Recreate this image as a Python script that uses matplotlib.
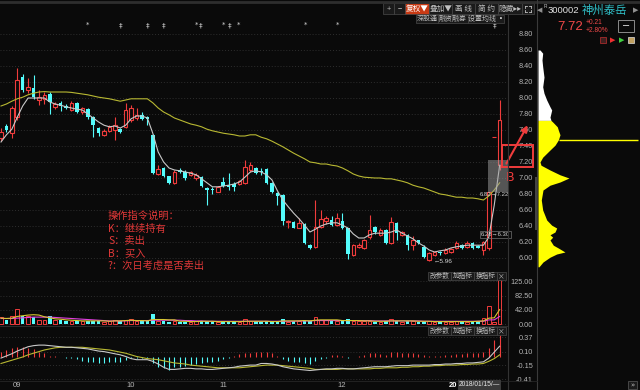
import matplotlib
matplotlib.use("Agg")
import matplotlib.pyplot as plt
from matplotlib.patches import Rectangle
from matplotlib.lines import Line2D
import numpy as np

plt.rcParams['font.family'] = ['Noto Sans CJK SC', 'DejaVu Sans']

# ---------------- data ----------------
opens = [7.50, 7.65, 7.56, 7.76, 8.26, 8.10, 8.12, 7.97, 7.99, 8.05,
         7.89, 7.94, 7.90, 7.85, 7.94, 7.825, 7.86, 7.76, 7.625, 7.54,
         7.59, 7.60, 7.61, 7.64, 7.725, 7.75, 7.79, 7.76, 7.54, 7.05,
         7.125, 7.025, 6.94, 7.10, 7.075, 7.04, 7.00, 7.01, 6.875, 6.86,
         6.825, 6.95, 6.91, 6.925, 6.925, 6.94, 7.10, 7.125, 7.09, 7.11,
         6.94, 6.81, 6.79, 6.45, 6.45, 6.375, 6.425, 6.16, 6.14, 6.39,
         6.46, 6.475, 6.41, 6.46, 6.375, 6.04, 6.14, 6.125, 6.26, 6.39,
         6.29, 6.35, 6.19, 6.44, 6.29, 6.29, 6.16, 6.225, 6.14, 5.97,
         6.04, 6.075, 6.06, 6.075, 6.125, 6.16, 6.14, 6.19, 6.15, 6.10,
         6.12, 7.51, 7.16]
closes = [7.575, 7.60, 7.87, 8.22, 8.10, 8.14, 8.01, 8.01, 8.04, 7.95,
          7.925, 7.90, 7.875, 7.94, 7.825, 7.875, 7.76, 7.66, 7.56, 7.59,
          7.64, 7.66, 7.575, 7.85, 7.875, 7.79, 7.74, 7.74, 7.06, 7.11,
          7.025, 6.94, 7.075, 7.075, 7.00, 7.075, 7.04, 6.90, 6.85, 6.85,
          6.89, 6.90, 6.89, 6.89, 6.96, 7.14, 7.16, 7.06, 7.08, 6.94,
          6.825, 6.775, 6.46, 6.46, 6.375, 6.44, 6.19, 6.125, 6.39, 6.49,
          6.50, 6.41, 6.50, 6.375, 6.05, 6.16, 6.16, 6.225, 6.35, 6.325,
          6.35, 6.19, 6.45, 6.31, 6.325, 6.16, 6.225, 6.19, 6.01, 6.06,
          6.075, 6.06, 6.10, 6.11, 6.19, 6.125, 6.19, 6.125, 6.125, 6.20,
          6.82, 7.51, 7.72]
highs = [7.62, 7.68, 7.90, 8.375, 8.30, 8.25, 8.29, 8.10, 8.08, 8.07,
         7.95, 7.96, 7.92, 7.96, 7.95, 7.89, 7.88, 7.77, 7.64, 7.61,
         7.66, 7.76, 7.63, 7.94, 7.91, 7.88, 7.82, 7.77, 7.55, 7.16,
         7.14, 7.03, 7.10, 7.12, 7.10, 7.09, 7.06, 7.02, 6.89, 6.89,
         6.90, 7.01, 7.06, 6.95, 6.98, 7.225, 7.20, 7.14, 7.13, 7.12,
         6.95, 6.82, 6.80, 6.47, 6.46, 6.50, 6.44, 6.17, 6.725, 6.60,
         6.52, 6.52, 6.56, 6.56, 6.38, 6.17, 6.19, 6.24, 6.54, 6.40,
         6.37, 6.36, 6.51, 6.45, 6.34, 6.30, 6.28, 6.23, 6.16, 6.07,
         6.09, 6.09, 6.12, 6.13, 6.21, 6.18, 6.21, 6.20, 6.16, 6.21,
         6.82, 7.51, 7.98]
lows = [7.46, 7.58, 7.50, 7.72, 8.08, 8.06, 7.99, 7.91, 7.92, 7.80,
        7.86, 7.84, 7.86, 7.84, 7.81, 7.80, 7.74, 7.51, 7.52, 7.52,
        7.57, 7.48, 7.56, 7.62, 7.70, 7.73, 7.72, 7.66, 7.05, 7.04,
        7.01, 6.93, 6.93, 7.06, 6.97, 7.02, 6.98, 6.89, 6.66, 6.80,
        6.82, 6.89, 6.85, 6.84, 6.91, 6.93, 7.08, 7.05, 7.04, 6.93,
        6.81, 6.66, 6.41, 6.375, 6.37, 6.37, 6.18, 6.11, 6.13, 6.38,
        6.43, 6.40, 6.40, 6.36, 5.99, 6.03, 6.12, 6.11, 6.24, 6.30,
        6.27, 6.17, 6.17, 6.225, 6.27, 6.10, 6.10, 6.18, 6.00, 5.96,
        6.03, 6.04, 6.05, 6.06, 6.11, 6.11, 6.13, 6.11, 6.12, 6.04,
        6.10, 7.51, 7.10]
ma_short = [7.45, 7.54, 7.61, 7.76, 7.90, 8.00, 8.00, 8.00, 8.00, 7.95,
            7.925, 7.91, 7.89, 7.875, 7.86, 7.85, 7.80, 7.75, 7.70, 7.66,
            7.64, 7.65, 7.625, 7.66, 7.74, 7.775, 7.775, 7.75, 7.56, 7.325,
            7.20, 7.125, 7.10, 7.09, 7.075, 7.06, 7.04, 6.99, 6.94, 6.89,
            6.89, 6.90, 6.91, 6.925, 6.95, 7.01, 7.075, 7.09, 7.075, 7.04,
            6.975, 6.84, 6.725, 6.64, 6.56, 6.49, 6.41, 6.325, 6.36, 6.40,
            6.425, 6.44, 6.44, 6.41, 6.375, 6.30, 6.25, 6.25, 6.29, 6.31,
            6.31, 6.31, 6.325, 6.35, 6.31, 6.275, 6.24, 6.19, 6.15, 6.10,
            6.075, 6.09, 6.10, 6.125, 6.14, 6.15, 6.16, 6.16, 6.16, 6.16,
            6.26, 6.66, 7.16]
ma_long = [7.90, 7.925, 7.96, 7.99, 8.01, 8.04, 8.06, 8.075, 8.08, 8.075,
           8.075, 8.075, 8.075, 8.07, 8.06, 8.05, 8.04, 8.025, 8.01, 8.00,
           7.99, 7.975, 7.96, 7.975, 7.99, 7.99, 7.99, 7.99, 7.94, 7.875,
           7.825, 7.79, 7.75, 7.725, 7.70, 7.675, 7.66, 7.64, 7.61, 7.59,
           7.575, 7.56, 7.55, 7.54, 7.525, 7.525, 7.54, 7.54, 7.51, 7.49,
           7.46, 7.425, 7.39, 7.35, 7.31, 7.275, 7.24, 7.20, 7.19, 7.175,
           7.175, 7.16, 7.15, 7.125, 7.09, 7.05, 7.025, 7.01, 7.005, 7.00,
           7.00, 6.99, 6.99, 6.975, 6.96, 6.94, 6.91, 6.89, 6.875, 6.85,
           6.825, 6.80, 6.79, 6.775, 6.76, 6.76, 6.75, 6.75, 6.74, 6.725,
           6.775, 6.85, 6.94]
volumes = [19.4, 12.6, 22.3, 43.6, 24.2, 22.3, 20.3, 12.6, 10.7, 24.2,
           10.7, 10.7, 7.8, 9.7, 9.7, 7.8, 9.7, 9.7, 9.7, 6.8,
           7.8, 10.7, 7.8, 12.6, 14.5, 7.8, 7.8, 7.8, 30.0, 7.8,
           9.7, 5.8, 9.7, 5.8, 5.8, 6.8, 7.8, 7.8, 7.8, 5.8,
           5.8, 5.8, 5.8, 7.8, 5.8, 14.5, 7.8, 7.8, 4.8, 7.8,
           5.8, 7.8, 15.5, 5.8, 7.8, 7.8, 9.7, 7.8, 19.4, 12.6,
           10.7, 7.8, 9.7, 7.8, 15.5, 9.7, 7.8, 7.8, 9.7, 5.8,
           5.8, 7.8, 15.5, 9.7, 5.8, 7.8, 7.8, 5.8, 9.7, 7.8,
           5.8, 5.8, 5.8, 5.8, 7.8, 7.8, 5.8, 7.8, 7.8, 16.5,
           52.0, 4.8, 128.0]
vol_ma5 = [17, 16, 17, 22, 24, 26, 27, 26, 21, 18,
           15, 14, 12, 11, 10, 9, 9, 9, 9, 9,
           8, 9, 9, 10, 11, 10, 10, 9, 13, 13,
           13, 12, 12, 8, 8, 7, 7, 8, 8, 8,
           7, 7, 7, 7, 7, 8, 8, 8, 8, 8,
           7, 7, 9, 9, 9, 9, 10, 9, 11, 12,
           12, 12, 12, 10, 10, 10, 10, 9, 9, 8,
           8, 8, 9, 9, 9, 9, 9, 8, 8, 8,
           7, 7, 7, 7, 7, 7, 7, 7, 8, 9,
           17, 18, 42]
vol_ma10 = [16, 16, 16, 17, 18, 19, 20, 20, 20, 20,
            19, 18, 17, 16, 15, 14, 13, 12, 11, 10,
            9, 9, 9, 9, 10, 10, 10, 10, 11, 11,
            11, 11, 11, 11, 10, 10, 9, 9, 8, 8,
            8, 8, 8, 8, 8, 8, 8, 8, 8, 8,
            8, 8, 8, 8, 8, 9, 9, 9, 10, 10,
            10, 10, 10, 10, 10, 10, 10, 10, 10, 9,
            9, 9, 9, 9, 9, 9, 9, 9, 8, 8,
            8, 8, 8, 8, 8, 8, 8, 8, 8, 8,
            12, 12, 22]
macd_hist = [0.10, 0.13, 0.16, 0.18, 0.18, 0.17, 0.14, 0.10, 0.07, 0.02,
             0.01, 0.005, -0.01, -0.02, -0.04, -0.07, -0.09, -0.10, -0.12, -0.12,
             -0.10, -0.09, -0.09, -0.055, -0.025, -0.01, -0.01, -0.025, -0.12, -0.18,
             -0.21, -0.24, -0.19, -0.18, -0.17, -0.15, -0.13, -0.12, -0.10, -0.09,
             -0.07, -0.04, -0.025, 0.02, 0.055, 0.07, 0.08, 0.10, 0.10, 0.10,
             0.07, 0.02, -0.04, -0.07, -0.09, -0.10, -0.12, -0.13, -0.07, -0.04,
             -0.01, 0.04, 0.04, 0.02, -0.01, -0.005, 0.02, 0.04, 0.07, 0.07,
             0.055, 0.04, 0.10, 0.10, 0.08, 0.07, 0.07, 0.055, 0.04, 0.02,
             0.02, 0.02, 0.03, 0.04, 0.055, 0.055, 0.07, 0.07, 0.07, 0.10,
             0.16, 0.31, 0.41]
macd_dif = [-0.02, 0.02, 0.06, 0.11, 0.15, 0.19, 0.21, 0.22, 0.22, 0.21,
            0.20, 0.19, 0.18, 0.18, 0.17, 0.16, 0.15, 0.13, 0.11, 0.10,
            0.08, 0.06, 0.04, 0.01, -0.03, -0.05, -0.05, -0.05, -0.08, -0.13,
            -0.19, -0.23, -0.23, -0.22, -0.21, -0.21, -0.22, -0.22, -0.23, -0.23,
            -0.22, -0.21, -0.20, -0.19, -0.17, -0.16, -0.15, -0.15, -0.12, -0.12,
            -0.13, -0.15, -0.18, -0.20, -0.22, -0.23, -0.24, -0.25, -0.24, -0.23,
            -0.22, -0.22, -0.21, -0.21, -0.22, -0.22, -0.21, -0.20, -0.19, -0.18,
            -0.18, -0.18, -0.17, -0.16, -0.16, -0.16, -0.15, -0.15, -0.15, -0.15,
            -0.14, -0.14, -0.13, -0.13, -0.12, -0.12, -0.11, -0.11, -0.10, -0.09,
            -0.02, 0.09, 0.20]
macd_dea = [-0.12, -0.09, -0.06, -0.03, 0.00, 0.04, 0.07, 0.10, 0.13, 0.15,
            0.17, 0.18, 0.18, 0.18, 0.18, 0.18, 0.17, 0.16, 0.15, 0.14,
            0.13, 0.11, 0.09, 0.07, 0.04, 0.01, -0.01, -0.03, -0.04, -0.05,
            -0.07, -0.09, -0.11, -0.12, -0.13, -0.15, -0.16, -0.17, -0.18, -0.19,
            -0.20, -0.20, -0.20, -0.20, -0.20, -0.19, -0.18, -0.17, -0.16, -0.15,
            -0.15, -0.15, -0.16, -0.17, -0.18, -0.19, -0.20, -0.21, -0.23, -0.23,
            -0.23, -0.23, -0.23, -0.22, -0.22, -0.22, -0.22, -0.22, -0.22, -0.21,
            -0.21, -0.20, -0.20, -0.20, -0.19, -0.19, -0.18, -0.18, -0.17, -0.17,
            -0.16, -0.16, -0.15, -0.15, -0.15, -0.14, -0.14, -0.13, -0.13, -0.12,
            -0.08, -0.03, 0.04]

price_ticks = [8.80, 8.60, 8.40, 8.20, 8.00, 7.80, 7.60, 7.40, 7.20, 7.00,
               6.80, 6.60, 6.40, 6.20, 6.00]
vol_ticks = [0.0, 42.0, 82.5, 125.0]
macd_ticks = [-0.41, -0.15, 0.10, 0.37]
month_labels = ['09', '10', '11', '12', '20']
month_pos = [2.95, 24.0, 41.1, 62.9, 83.4]

prof_price = [8.60, 8.56, 8.475, 8.39, 8.26, 8.14, 8.06, 7.975, 7.89, 7.85,
              7.76, 7.72, 7.70, 7.64, 7.60, 7.54, 7.475, 7.41, 7.35, 7.26,
              7.20, 7.16, 7.10, 7.04, 7.00, 6.95, 6.91, 6.85, 6.725, 6.60,
              6.475, 6.41, 6.375, 6.325, 6.29, 6.26, 6.225, 6.16, 6.125, 6.075,
              6.05, 6.01, 5.95, 5.89]
prof_width = [2, 4.7, 4, 4.7, 6, 4.7, 6, 8.7, 12, 13.7,
              12, 13, 14.7, 19.3, 20.3, 22, 20.3, 17, 12, 4.7,
              2, 3, 12, 22, 31, 22, 12, 5, 3.3, 4.7,
              8.7, 13.7, 18.7, 17, 12, 14.7, 12, 15.3, 20.3, 27,
              18.7, 12, 5, 1]
last_price = 7.72
avg_cost = 7.475

star_idx = [16, 22.1, 27.1, 29.9, 36, 36.9, 41.1, 42.1, 43.9, 56.1, 62, 91]
star_sym = ['*', '‡', '‡', '‡', '*', '‡', '*', '‡', '*', '*', '*', '‡']

legend_lines = ['操作指令说明：', 'K：继续持有', 'S：卖出', 'B：买入', '?：次日考虑是否卖出']

# ---------------- style ----------------
BG = '#0a0a0a'
RED = '#f03c3c'
CYAN = '#54fcfc'
YEL = '#b8b832'
WHT = '#c8c8c8'
GRID = '#2e2e2e'
LBL = '#b4b4b4'
NUMF = 'Liberation Sans'

W, H = 640, 390
fig = plt.figure(figsize=(W / 100, H / 100), dpi=100, facecolor=BG)


def add_ax(x0, y0, x1, y1):
    a = fig.add_axes([x0 / W, 1 - y1 / H, (x1 - x0) / W, (y1 - y0) / H])
    a.set_facecolor('none')
    for s in a.spines.values():
        s.set_visible(False)
    return a


def ftext(x, y, s, **kw):
    return fig.text(x / W, 1 - y / H, s, **kw)


def fline(x0, y0, x1, y1, **kw):
    fig.add_artist(Line2D([x0 / W, x1 / W], [1 - y0 / H, 1 - y1 / H], **kw))


def frect(x0, y0, x1, y1, **kw):
    fig.add_artist(Rectangle((x0 / W, 1 - y1 / H), (x1 - x0) / W, (y1 - y0) / H,
                             transform=fig.transFigure, **kw))


def right_ticks(a, ticks, fmt):
    a.yaxis.tick_right()
    a.set_yticks(ticks)
    a.set_yticklabels([fmt.format(t) for t in ticks])
    a.tick_params(axis='y', length=0, pad=18, labelsize=5.3, labelcolor=LBL)
    for lab in a.get_yticklabels():
        lab.set_horizontalalignment('right')
        lab.set_fontfamily(NUMF)
    a.grid(axis='y', color=GRID, linestyle=(0, (1, 2)), lw=0.7)
    a.set_axisbelow(True)


XL = (-0.185, 93.54)
n = len(opens)
idx = np.arange(n)
o = np.array(opens); c = np.array(closes)
hi = np.array(highs); lo = np.array(lows)
up = c >= o
top = np.maximum(o, c); bot = np.minimum(o, c)
hgt = np.maximum(top - bot, 0.008)
BW = 0.66

# ---------------- main price panel ----------------
ax = add_ax(0, 15, 508, 268)
ax.set_xlim(*XL)
ax.set_ylim(5.875, 9.0375)
ax.set_xticks([])
right_ticks(ax, price_ticks, '{:.2f}')

ax.vlines(idx[~up], lo[~up], hi[~up], color=CYAN, lw=0.8, zorder=2)
ax.vlines(idx[up], top[up], hi[up], color=RED, lw=0.8, zorder=2)
ax.vlines(idx[up], lo[up], bot[up], color=RED, lw=0.8, zorder=2)
ax.bar(idx[~up], hgt[~up], bottom=bot[~up], width=BW, color=CYAN, lw=0, zorder=3)
ax.bar(idx[up], hgt[up], bottom=bot[up], width=BW, facecolor=BG, edgecolor=RED, lw=0.8, zorder=3)
ax.plot(idx, ma_long, color=YEL, lw=0.8, zorder=4)
ax.plot(idx, ma_short, color=WHT, lw=0.8, zorder=4)

for i, s in zip(star_idx, star_sym):
    ax.text(i, 8.9125, s, color='#d8d8d8', fontsize=5, ha='center', va='center', family='DejaVu Sans')

# highlight box and labels near the end
ax.add_patch(Rectangle((89.85, 6.825), 3.69, 0.40, facecolor='#a0a0a0', alpha=0.5,
                       edgecolor='none', zorder=5, clip_on=False))
ax.text(88.4, 6.79, '6.82→7.22', color='#d0d0d0', fontsize=4.3, ha='left', va='center',
        family=NUMF, zorder=6, clip_on=False)
ax.text(88.6, 6.29, '6.28→6.30', color='#d0d0d0', fontsize=4.3, ha='left', va='center',
        family=NUMF, zorder=6, bbox=dict(facecolor='none', edgecolor='#707070', lw=0.5, pad=0.6))
ax.text(79.9, 5.955, '←5.96', color='#d8d8d8', fontsize=4.6, ha='left', va='center', family=NUMF)

# red annotation: rectangle, arrow and "B"
ax.add_patch(Rectangle((92.45, 7.1375), 5.75, 0.275, facecolor='none', edgecolor=RED,
                       lw=1.4, zorder=7, clip_on=False))
ax.annotate('', xy=(97.4, 7.69), xytext=(93.0, 7.15), annotation_clip=False, zorder=7,
            arrowprops=dict(arrowstyle='-|>', color=RED, lw=1.5, mutation_scale=9))
ax.text(94.0, 7.01, 'B', color=RED, fontsize=9, ha='center', va='center', family='DejaVu Sans',
        zorder=7, clip_on=False)

# ---------------- volume panel ----------------
axv = add_ax(0, 270, 508, 326)
axv.set_xlim(*XL)
axv.set_ylim(-5.8, 157)
axv.set_xticks([])
right_ticks(axv, vol_ticks, '{:.2f}')
vol = np.array(volumes)
axv.bar(idx[~up], vol[~up], width=BW, color=CYAN, lw=0, zorder=3)
axv.bar(idx[up], vol[up], width=BW, facecolor=BG, edgecolor=RED, lw=0.7, zorder=3)
axv.plot(idx, vol_ma10, color='#e040e0', lw=0.8, zorder=4)
axv.plot(idx, vol_ma5, color='#d8c832', lw=0.8, zorder=4)

# ---------------- MACD panel ----------------
axm = add_ax(0, 326, 508, 380)
axm.set_xlim(*XL)
axm.set_ylim(-0.426, 0.574)
right_ticks(axm, macd_ticks, '{:.2f}')
mh = np.array(macd_hist)
axm.vlines(idx, 0, mh, colors=np.where(mh >= 0, RED, CYAN), lw=0.8, zorder=3)
axm.plot(idx, macd_dea, color=YEL, lw=0.8, zorder=4)
axm.plot(idx, macd_dif, color=WHT, lw=0.8, zorder=4)
axm.set_xticks(month_pos)
axm.set_xticklabels(month_labels)
axm.tick_params(axis='x', length=0, pad=1.5, labelsize=5.5, labelcolor=LBL)
for lab in axm.get_xticklabels():
    lab.set_fontfamily(NUMF)
axm.get_xticklabels()[-1].set_color('white')
axm.get_xticklabels()[-1].set_fontweight('bold')

# ---------------- chip distribution (right) ----------------
axp = add_ax(538, 15, 640, 268)
axp.set_xlim(0, 102)
axp.set_ylim(5.875, 9.0375)
axp.set_xticks([]); axp.set_yticks([])
pp = np.array(prof_price); pw = np.array(prof_width)
mw = pp >= last_price
my = pp <= last_price
axp.fill_betweenx(pp[mw], 0, pw[mw], color='white', lw=0)
axp.fill_betweenx(pp[my], 0, pw[my], color='#ffff00', lw=0)
axp.hlines(avg_cost, 21, 100, color='#ffff00', lw=1.0)

# ---------------- frame lines ----------------
fline(0, 1.5, 640, 1.5, color='#2e2e2e', lw=2)
fline(508, 15, 508, 390, color='#333333', lw=0.8)
fline(537, 0, 537, 390, color='#3a3a3a', lw=0.8)
fline(0, 325.5, 508, 325.5, color='#333333', lw=0.6)
fline(0, 380.5, 537, 380.5, color='#262626', lw=0.6)
frect(535, 177, 538, 230, facecolor='#454545', edgecolor='none')

# ---------------- toolbar ----------------
def button(x0, x1, y0, y1, txt, bg='#1a1a1a', fg='#c0c0c0', fs=5.5):
    frect(x0, y0, x1, y1, facecolor=bg, edgecolor='#4a4a4a', lw=0.5)
    if txt:
        ftext((x0 + x1) / 2, (y0 + y1) / 2, txt, color=fg, fontsize=fs, ha='center', va='center')

button(383, 394, 3, 14, '+')
button(394, 405, 3, 14, '−')
button(405, 429, 3, 14, '复权▼', bg='#c83a14', fg='white')
button(429, 452, 3, 14, '叠加▼')
button(452, 475, 3, 14, '画 线')
button(475, 498, 3, 14, '简 约')
button(498, 522, 3, 14, '隐藏▸▸')
button(522, 534, 3, 14, '')
# full-screen symbol drawn as four corner brackets
for (cx, cy, dx, dy) in [(525, 5.5, 1, 1), (531, 5.5, -1, 1), (525, 11.5, 1, -1), (531, 11.5, -1, -1)]:
    fline(cx, cy, cx + 2 * dx, cy, color='#c0c0c0', lw=0.6)
    fline(cx, cy, cx, cy + 2 * dy, color='#c0c0c0', lw=0.6)
button(416, 438, 15, 23, '深股通', fs=5)
button(438, 468, 15, 23, '融资融券', fs=5)
button(468, 504, 15, 23, '设置均线 ▪', fs=5)

# panel header buttons
for yy in (272, 327):
    button(428, 451, yy, yy + 8, '改参数', fs=4.8)
    button(451, 474, yy, yy + 8, '加指标', fs=4.8)
    button(474, 497, yy, yy + 8, '换指标', fs=4.8)
    button(497, 506, yy, yy + 8, '×', fs=4.8)

# ---------------- red instruction text ----------------
for line, yy in zip(legend_lines, [216, 228.5, 241, 253.5, 266]):
    ftext(108, yy, line, color='#e03838', fontsize=7.4, ha='left', va='center')

# ---------------- right header ----------------
ftext(540, 10, '◀', color='#909090', fontsize=5, ha='center', va='center', family='DejaVu Sans')
ftext(545.5, 6, 'R', color='#c0c0c0', fontsize=3.5, ha='center', va='center', family=NUMF)
ftext(548, 10.5, '300002', color='#e0e0e0', fontsize=6.8, ha='left', va='center', family=NUMF)
ftext(582, 10.5, '神州泰岳', color='#30c0c8', fontsize=8.2, ha='left', va='center')
ftext(636, 10, '▶', color='#909090', fontsize=5, ha='center', va='center', family='DejaVu Sans')
ftext(557, 27, '7.72', color='#f04848', fontsize=9.5, ha='left', va='center', family=NUMF)
ftext(586, 22.5, '+0.21', color='#f04848', fontsize=4.8, ha='left', va='center', family=NUMF)
ftext(586, 31, '+2.80%', color='#f04848', fontsize=4.8, ha='left', va='center', family=NUMF)
frect(618, 20, 634, 32, facecolor='none', edgecolor='#8a8a8a', lw=0.7)
ftext(626, 26, '−', color='#e0e0e0', fontsize=7, ha='center', va='center', family='DejaVu Sans')
frect(600, 37, 606, 43, facecolor='#402020', edgecolor='#c03030', lw=0.5)
ftext(613, 40, '▶', color='#f03030', fontsize=5, ha='center', va='center', family='DejaVu Sans')
ftext(622, 40, '▶', color='#40d040', fontsize=5, ha='center', va='center', family='DejaVu Sans')
frect(628, 37, 634, 43, facecolor='#c0a060', edgecolor='#e0e0e0', lw=0.5)

# ---------------- date strip ----------------
ftext(479.5, 385, '2018/01/15/—', color='#e8e8e8', fontsize=4.8, ha='center', va='center',
      family=NUMF, bbox=dict(facecolor='#3a3a3a', edgecolor='none', pad=0.8))
frect(628, 381, 637, 389, facecolor='#1a1a1a', edgecolor='#5a5a5a', lw=0.5)
ftext(632.5, 385, '»', color='#c0c0c0', fontsize=5, ha='center', va='center', family='DejaVu Sans')

fig.savefig('out.png', dpi=100, facecolor=BG)
